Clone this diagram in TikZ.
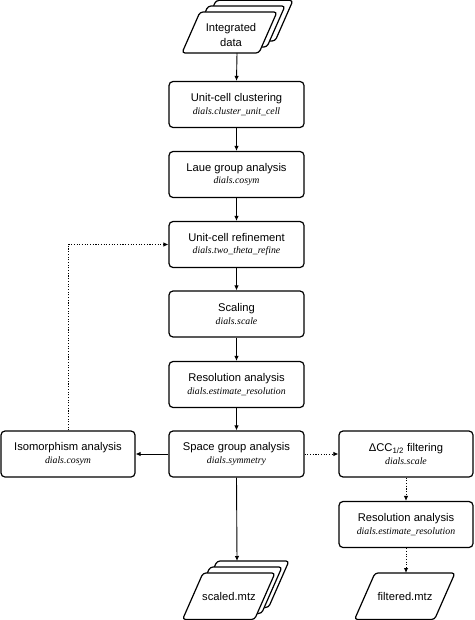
\documentclass[tikz,border=0pt]{standalone}
\usepackage{fontspec}
\setmainfont{Liberation Sans}
\newfontfamily\cmdfont{Liberation Serif}
\usetikzlibrary{arrows.meta}
\tikzset{
  box/.style={draw, rounded corners=4pt, line width=1.2pt, minimum width=135pt,
    minimum height=46pt, align=center, inner sep=0pt,
    font=\fontsize{11.2}{12.5}\selectfont},
  sheettext/.style={align=center, inner sep=0pt, font=\fontsize{11.2}{14}\selectfont},
  conn/.style={line width=0.9pt, -{Latex[length=5pt,width=4.5pt]}},
  dotconn/.style={conn, dash pattern=on 1.1pt off 1.6pt},
  sheet/.style={draw, fill=white, line width=1.2pt, rounded corners=3pt, line join=round},
}
\newcommand\cmdline[1]{\\{\cmdfont\itshape\fontsize{9.8}{11}\selectfont #1}}
% #1 top-left x, #2 top y, #3 bottom y, #4 width
\newcommand\drawsheet[4]{%
  \path[sheet] (#1,#2) -- ({#1+#4},#2) -- ({#1+#4-0.44*(#3-#2)},#3)
    -- ({#1-0.44*(#3-#2)},#3) -- cycle;}
\begin{document}
\begin{tikzpicture}[x=1pt,y=-1pt]
\useasboundingbox (0,0) rectangle (474,620);

% integrated data (stack)
\drawsheet{216}{0.4}{41}{77}
\drawsheet{208}{6}{47}{77}
\drawsheet{200}{12}{53}{77}
\node[sheettext] (integ) at (231,35) {Integrated\\data};
\coordinate (integout) at (237,53);

% main column
\node[box] (clust) at (236.5,104.5) {Unit-cell clustering\cmdline{dials.cluster\_unit\_cell}};
\node[box] (laue)  at (236.5,174.5) {Laue group analysis\cmdline{dials.cosym}};
\node[box] (refine) at (236.5,244.5) {Unit-cell refinement\cmdline{dials.two\_theta\_refine}};
\node[box] (scale) at (236.5,314) {Scaling\cmdline{dials.scale}};
\node[box] (res)   at (236.5,384.5) {Resolution analysis\cmdline{dials.estimate\_resolution}};
\node[box] (space) at (236.5,454) {Space group analysis\cmdline{dials.symmetry}};

% side boxes
\node[box, minimum width=134pt] (iso) at (68,454) {Isomorphism analysis\cmdline{dials.cosym}};
\node[box, minimum width=134pt] (dcc) at (406,454) {ΔCC\textsubscript{1/2} filtering\cmdline{dials.scale}};
\node[box, minimum width=134pt] (res2) at (406,524.5) {Resolution analysis\cmdline{dials.estimate\_resolution}};

% scaled.mtz (stack)
\drawsheet{217}{561}{607.5}{72}
\drawsheet{210}{567}{613.5}{72}
\drawsheet{203}{573}{619.5}{72}
\node[sheettext] (scaled) at (229,596) {scaled.mtz};
\coordinate (scaledin) at (237,561);

% filtered.mtz
\drawsheet{375}{573}{619.5}{80}
\node[sheettext] (filt) at (405,596) {filtered.mtz};
\coordinate (filtin) at (406,573);

% connectors
\draw[conn] (integout) -- (clust.north);
\draw[conn] (clust) -- (laue);
\draw[conn] (laue) -- (refine);
\draw[conn] (refine) -- (scale);
\draw[conn] (scale) -- (res);
\draw[conn] (res) -- (space);
\draw[conn] (space.south) -- (scaledin);
\draw[conn] (space) -- (iso);
\draw[dotconn] (space) -- (dcc);
\draw[dotconn] (dcc) -- (res2);
\draw[dotconn] (res2.south) -- (filtin);
\draw[dotconn] (iso.north) |- (refine.west);
\end{tikzpicture}
\end{document}
